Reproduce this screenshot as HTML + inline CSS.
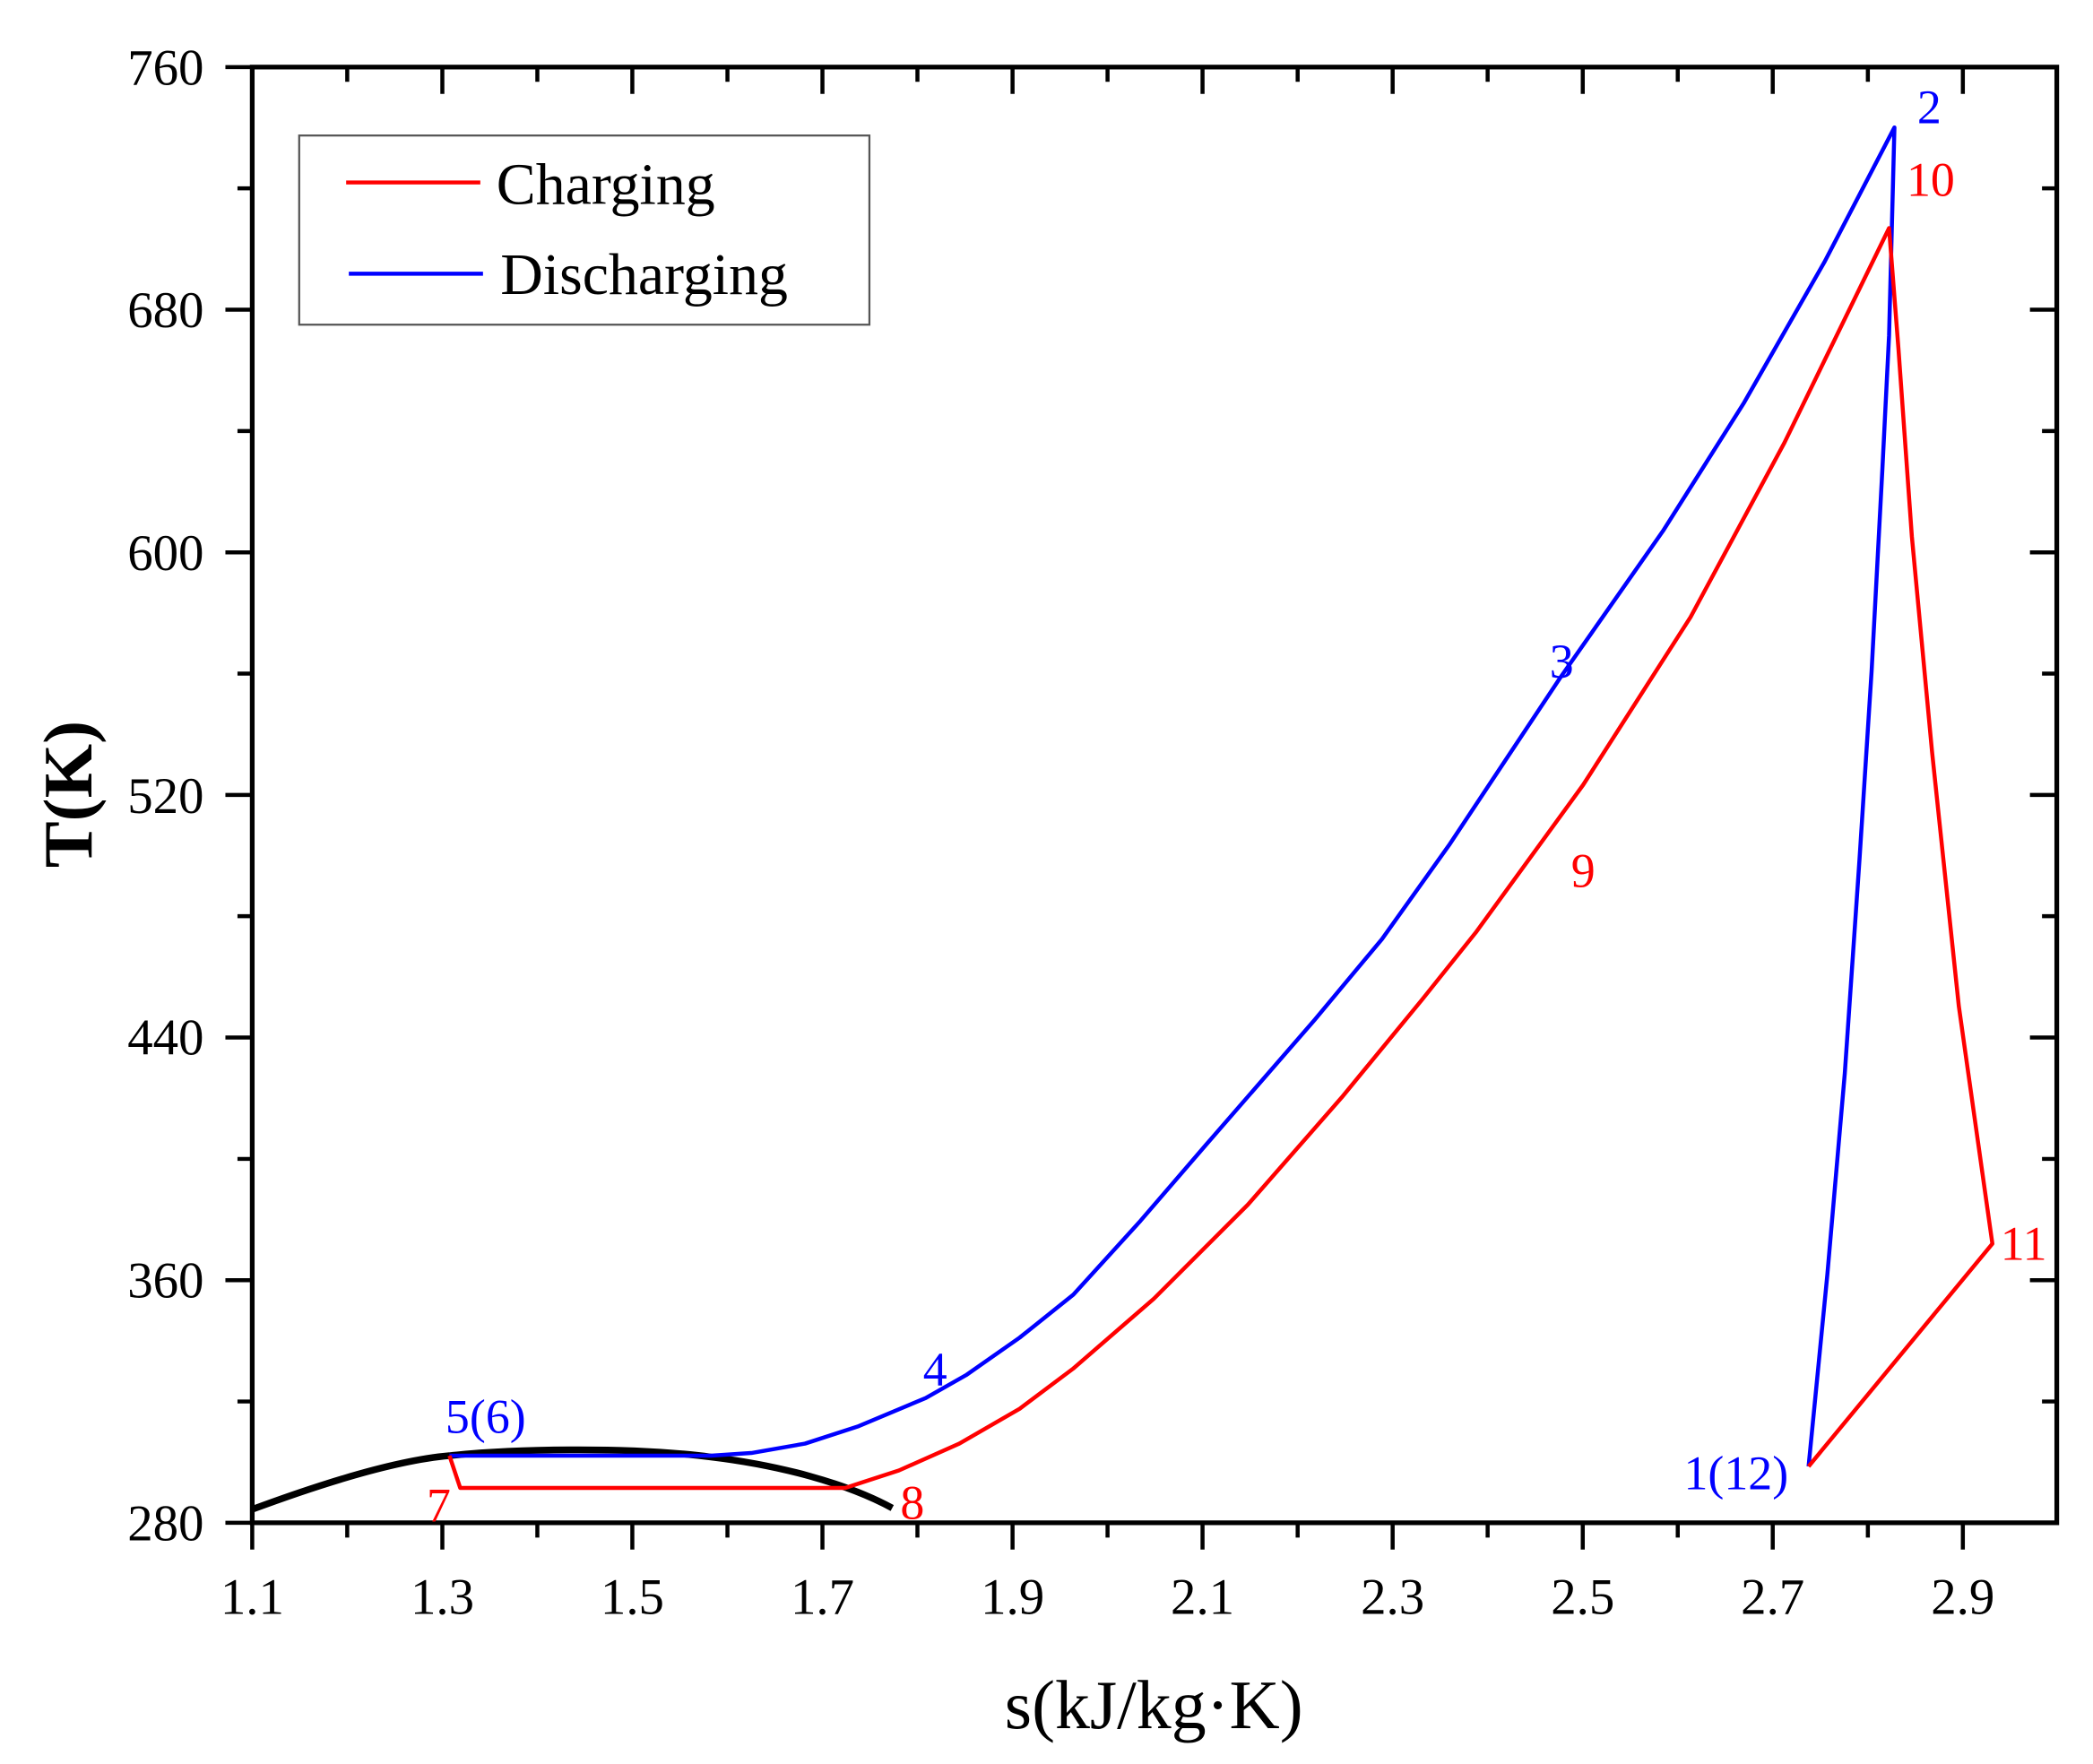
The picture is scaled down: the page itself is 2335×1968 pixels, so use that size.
<!DOCTYPE html>
<html><head><meta charset="utf-8"><style>
html,body{margin:0;padding:0;background:#fff;}
svg{display:block;}
text{font-family:"Liberation Serif",serif;}
</style></head><body>
<svg width="2335" height="1968" viewBox="0 0 1560 1314.8" preserveAspectRatio="none" xmlns="http://www.w3.org/2000/svg">
<rect width="1560" height="1315" fill="#fff"/>
<rect x="188" y="50" width="1345" height="1085" fill="none" stroke="#000" stroke-width="3.5"/>
<g stroke="#000" stroke-width="3">
<path d="M188 1135v20M329.7 1135v20M471.3 1135v20M613 1135v20M754.7 1135v20M896.3 1135v20M1038 1135v20M1179.7 1135v20M1321.3 1135v20M1463 1135v20"/>
<path d="M258.8 1135v11M400.5 1135v11M542.2 1135v11M683.8 1135v11M825.5 1135v11M967.2 1135v11M1108.8 1135v11M1250.5 1135v11M1392.2 1135v11"/>
<path d="M329.7 50v20M471.3 50v20M613 50v20M754.7 50v20M896.3 50v20M1038 50v20M1179.7 50v20M1321.3 50v20M1463 50v20"/>
<path d="M258.8 50v11M400.5 50v11M542.2 50v11M683.8 50v11M825.5 50v11M967.2 50v11M1108.8 50v11M1250.5 50v11M1392.2 50v11"/>
<path d="M168 50h20M168 230.8h20M168 411.7h20M168 592.5h20M168 773.3h20M168 954.2h20M168 1135h20"/>
<path d="M177 140.4h11M177 321.3h11M177 502.1h11M177 682.9h11M177 863.8h11M177 1044.6h11"/>
<path d="M1513 230.8h20M1513 411.7h20M1513 592.5h20M1513 773.3h20M1513 954.2h20"/>
<path d="M1522 140.4h11M1522 321.3h11M1522 502.1h11M1522 682.9h11M1522 863.8h11M1522 1044.6h11"/>
</g>
<g font-size="38" fill="#000" text-anchor="end">
<text x="152" y="63">760</text><text x="152" y="244">680</text><text x="152" y="425">600</text>
<text x="152" y="606">520</text><text x="152" y="786">440</text><text x="152" y="967">360</text><text x="152" y="1148">280</text>
</g>
<g font-size="38" fill="#000" text-anchor="middle">
<text x="188" y="1203">1.1</text><text x="329.7" y="1203">1.3</text><text x="471.3" y="1203">1.5</text>
<text x="613" y="1203">1.7</text><text x="754.7" y="1203">1.9</text><text x="896.3" y="1203">2.1</text>
<text x="1038" y="1203">2.3</text><text x="1179.7" y="1203">2.5</text><text x="1321.3" y="1203">2.7</text><text x="1463" y="1203">2.9</text>
</g>
<text x="860" y="1288" font-size="52" text-anchor="middle">s(kJ/kg·K)</text>
<text transform="translate(68,592) rotate(-90)" font-size="52" text-anchor="middle" font-weight="bold">T(K)</text>
<rect x="223" y="101" width="425" height="141" fill="#fff" stroke="#555" stroke-width="1.5"/>
<path d="M258 136h100" stroke="#f00" stroke-width="3"/>
<path d="M260 204h100" stroke="#00f" stroke-width="3"/>
<text x="370" y="152" font-size="44">Charging</text>
<text x="373" y="219" font-size="44">Discharging</text>
<g fill="none" stroke-width="3" stroke-linejoin="round">
<path d="M188 1125 C250 1102 300 1088 335 1085 C380 1080 470 1078 530 1086 C580 1092 630 1105 665 1124" stroke="#000" stroke-width="5"/>
<path d="M1348 1093 L1362 950 L1375 800 L1386 640 L1395 500 L1403 350 L1408 250 L1412 95 L1360 195 L1300 300 L1240 395 L1163 505 L1080 630 L1030 700 L980 760 L900 852 L850 910 L800 965 L760 997 L720 1025 L690 1042 L640 1063 L600 1076 L560 1083 L530 1085 L335 1085" stroke="#00f"/>
<path d="M335 1085 L343 1109 L630 1109 L670 1096 L715 1076 L760 1050 L800 1020 L860 968 L930 898 L1000 818 L1060 745 L1100 695 L1180 585 L1260 460 L1330 330 L1408 170 L1415 260 L1425 400 L1440 560 L1460 750 L1485 927 L1348 1093" stroke="#f00"/>
</g>
<g font-size="36">
<text x="1429" y="92" fill="#00f">2</text>
<text x="1421" y="146" fill="#f00">10</text>
<text x="1155" y="505" fill="#00f">3</text>
<text x="1171" y="661" fill="#f00">9</text>
<text x="688" y="1033" fill="#00f">4</text>
<text x="332" y="1068" fill="#00f">5(6)</text>
<text x="318" y="1134" fill="#f00">7</text>
<text x="671" y="1132" fill="#f00">8</text>
<text x="1491" y="939" fill="#f00">11</text>
<text x="1255" y="1110" fill="#00f">1(12)</text>
</g>
</svg>
</body></html>
